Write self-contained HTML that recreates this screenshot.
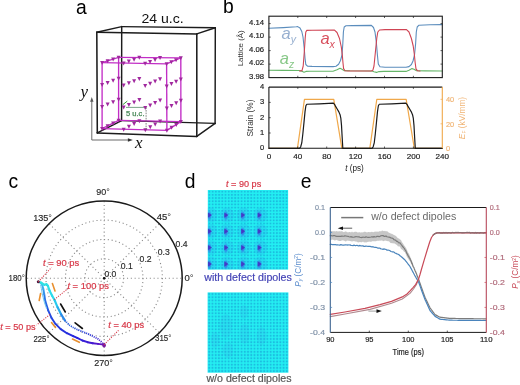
<!DOCTYPE html>
<html><head><meta charset="utf-8"><style>
html,body{margin:0;padding:0;background:#fff;}
svg{display:block;}
</style></head><body>
<svg width="520" height="385" viewBox="0 0 520 385">
<rect width="520" height="385" fill="#fff"/>
<text x="76.1" y="13.6" font-size="19.3" fill="#000" text-anchor="start" font-family="'Liberation Sans', Arial, sans-serif" >a</text>
<text x="223.1" y="12.9" font-size="19.3" fill="#000" text-anchor="start" font-family="'Liberation Sans', Arial, sans-serif" >b</text>
<text x="8.6" y="188" font-size="19.3" fill="#000" text-anchor="start" font-family="'Liberation Sans', Arial, sans-serif" >c</text>
<text x="184.7" y="187.9" font-size="19.3" fill="#000" text-anchor="start" font-family="'Liberation Sans', Arial, sans-serif" >d</text>
<text x="300.8" y="188" font-size="19.3" fill="#000" text-anchor="start" font-family="'Liberation Sans', Arial, sans-serif" >e</text>
<text x="141.4" y="22.6" font-size="12.4" fill="#111" text-anchor="start" font-family="'Liberation Sans', Arial, sans-serif"  textLength="42.3" lengthAdjust="spacingAndGlyphs">24 u.c.</text>
<line x1="121.7" y1="26.6" x2="215.3" y2="27.8" stroke="#1c1c1c" stroke-width="1.45" stroke-linecap="round"/>
<line x1="215.3" y1="27.8" x2="215.1" y2="123.4" stroke="#1c1c1c" stroke-width="1.45" stroke-linecap="round"/>
<line x1="215.1" y1="123.4" x2="121.6" y2="120.6" stroke="#1c1c1c" stroke-width="1.45" stroke-linecap="round"/>
<line x1="121.6" y1="120.6" x2="121.7" y2="26.6" stroke="#1c1c1c" stroke-width="1.45" stroke-linecap="round"/>
<line x1="96.8" y1="32.3" x2="121.7" y2="26.6" stroke="#1c1c1c" stroke-width="1.45" stroke-linecap="round"/>
<line x1="196.8" y1="33.9" x2="215.3" y2="27.8" stroke="#1c1c1c" stroke-width="1.45" stroke-linecap="round"/>
<line x1="196.8" y1="136.4" x2="215.1" y2="123.4" stroke="#1c1c1c" stroke-width="1.45" stroke-linecap="round"/>
<line x1="97.3" y1="132.9" x2="121.6" y2="120.6" stroke="#1c1c1c" stroke-width="1.45" stroke-linecap="round"/>
<line x1="118.6" y1="57.3" x2="180.8" y2="57.8" stroke="#c22ec6" stroke-width="1.35" />
<line x1="180.8" y1="57.8" x2="180.9" y2="121.6" stroke="#c22ec6" stroke-width="1.35" />
<line x1="180.9" y1="121.6" x2="118.6" y2="120.3" stroke="#c22ec6" stroke-width="1.35" />
<line x1="118.6" y1="120.3" x2="118.6" y2="57.3" stroke="#c22ec6" stroke-width="1.35" />
<line x1="102.1" y1="62.6" x2="118.6" y2="57.3" stroke="#c22ec6" stroke-width="1.35" />
<line x1="166.6" y1="63.8" x2="180.8" y2="57.8" stroke="#c22ec6" stroke-width="1.35" />
<line x1="166.9" y1="130.4" x2="180.9" y2="121.6" stroke="#c22ec6" stroke-width="1.35" />
<line x1="102.1" y1="128.7" x2="118.6" y2="120.3" stroke="#c22ec6" stroke-width="1.35" />
<line x1="102.1" y1="62.6" x2="166.6" y2="63.8" stroke="#c22ec6" stroke-width="1.35" />
<line x1="166.6" y1="63.8" x2="166.9" y2="130.4" stroke="#c22ec6" stroke-width="1.35" />
<line x1="166.9" y1="130.4" x2="102.1" y2="128.7" stroke="#c22ec6" stroke-width="1.35" />
<line x1="102.1" y1="128.7" x2="102.1" y2="62.6" stroke="#c22ec6" stroke-width="1.35" />
<line x1="96.8" y1="32.3" x2="196.8" y2="33.9" stroke="#1c1c1c" stroke-width="1.55" stroke-linecap="round"/>
<line x1="196.8" y1="33.9" x2="196.8" y2="136.4" stroke="#1c1c1c" stroke-width="1.55" stroke-linecap="round"/>
<line x1="196.8" y1="136.4" x2="97.3" y2="132.9" stroke="#1c1c1c" stroke-width="1.55" stroke-linecap="round"/>
<line x1="97.3" y1="132.9" x2="96.8" y2="32.3" stroke="#1c1c1c" stroke-width="1.55" stroke-linecap="round"/>
<polygon points="100.1,61 104.1,61 102.1,65" fill="#a0289e" />
<polygon points="105.6,59.23 109.6,59.23 107.6,63.23" fill="#a0289e" />
<polygon points="111.1,57.47 115.1,57.47 113.1,61.47" fill="#a0289e" />
<polygon points="116.6,55.7 120.6,55.7 118.6,59.7" fill="#a0289e" />
<polygon points="100.1,83.03 104.1,83.03 102.1,87.03" fill="#a0289e" />
<polygon points="105.6,80.92 109.6,80.92 107.6,84.92" fill="#a0289e" />
<polygon points="111.1,78.81 115.1,78.81 113.1,82.81" fill="#a0289e" />
<polygon points="116.6,76.7 120.6,76.7 118.6,80.7" fill="#a0289e" />
<polygon points="100.1,105.07 104.1,105.07 102.1,109.07" fill="#a0289e" />
<polygon points="105.6,102.61 109.6,102.61 107.6,106.61" fill="#a0289e" />
<polygon points="111.1,100.16 115.1,100.16 113.1,104.16" fill="#a0289e" />
<polygon points="116.6,97.7 120.6,97.7 118.6,101.7" fill="#a0289e" />
<polygon points="100.1,127.1 104.1,127.1 102.1,131.1" fill="#a0289e" />
<polygon points="105.6,124.3 109.6,124.3 107.6,128.3" fill="#a0289e" />
<polygon points="111.1,121.5 115.1,121.5 113.1,125.5" fill="#a0289e" />
<polygon points="116.6,118.7 120.6,118.7 118.6,122.7" fill="#a0289e" />
<polygon points="121.6,61.4 125.6,61.4 123.6,65.4" fill="#a0289e" />
<polygon points="126.84,59.56 130.84,59.56 128.84,63.56" fill="#a0289e" />
<polygon points="132.09,57.71 136.09,57.71 134.09,61.71" fill="#a0289e" />
<polygon points="137.33,55.87 141.33,55.87 139.33,59.87" fill="#a0289e" />
<polygon points="121.63,83.49 125.63,83.49 123.63,87.49" fill="#a0289e" />
<polygon points="126.87,81.31 130.87,81.31 128.87,85.31" fill="#a0289e" />
<polygon points="132.11,79.13 136.11,79.13 134.11,83.13" fill="#a0289e" />
<polygon points="137.34,76.96 141.34,76.96 139.34,80.96" fill="#a0289e" />
<polygon points="121.67,105.58 125.67,105.58 123.67,109.58" fill="#a0289e" />
<polygon points="126.9,103.07 130.9,103.07 128.9,107.07" fill="#a0289e" />
<polygon points="132.13,100.56 136.13,100.56 134.13,104.56" fill="#a0289e" />
<polygon points="137.36,98.04 141.36,98.04 139.36,102.04" fill="#a0289e" />
<polygon points="121.7,127.67 125.7,127.67 123.7,131.67" fill="#a0289e" />
<polygon points="126.92,124.82 130.92,124.82 128.92,128.82" fill="#a0289e" />
<polygon points="132.14,121.98 136.14,121.98 134.14,125.98" fill="#a0289e" />
<polygon points="137.37,119.13 141.37,119.13 139.37,123.13" fill="#a0289e" />
<polygon points="143.1,61.8 147.1,61.8 145.1,65.8" fill="#a0289e" />
<polygon points="148.09,59.88 152.09,59.88 150.09,63.88" fill="#a0289e" />
<polygon points="153.08,57.96 157.08,57.96 155.08,61.96" fill="#a0289e" />
<polygon points="158.07,56.03 162.07,56.03 160.07,60.03" fill="#a0289e" />
<polygon points="143.17,83.94 147.17,83.94 145.17,87.94" fill="#a0289e" />
<polygon points="148.14,81.7 152.14,81.7 150.14,85.7" fill="#a0289e" />
<polygon points="153.11,79.46 157.11,79.46 155.11,83.46" fill="#a0289e" />
<polygon points="158.09,77.21 162.09,77.21 160.09,81.21" fill="#a0289e" />
<polygon points="143.23,106.09 147.23,106.09 145.23,110.09" fill="#a0289e" />
<polygon points="148.19,103.52 152.19,103.52 150.19,107.52" fill="#a0289e" />
<polygon points="153.15,100.96 157.15,100.96 155.15,104.96" fill="#a0289e" />
<polygon points="158.11,98.39 162.11,98.39 160.11,102.39" fill="#a0289e" />
<polygon points="143.3,128.23 147.3,128.23 145.3,132.23" fill="#a0289e" />
<polygon points="148.24,125.34 152.24,125.34 150.24,129.34" fill="#a0289e" />
<polygon points="153.19,122.46 157.19,122.46 155.19,126.46" fill="#a0289e" />
<polygon points="158.13,119.57 162.13,119.57 160.13,123.57" fill="#a0289e" />
<polygon points="164.6,62.2 168.6,62.2 166.6,66.2" fill="#a0289e" />
<polygon points="169.33,60.2 173.33,60.2 171.33,64.2" fill="#a0289e" />
<polygon points="174.07,58.2 178.07,58.2 176.07,62.2" fill="#a0289e" />
<polygon points="178.8,56.2 182.8,56.2 180.8,60.2" fill="#a0289e" />
<polygon points="164.7,84.4 168.7,84.4 166.7,88.4" fill="#a0289e" />
<polygon points="169.41,82.09 173.41,82.09 171.41,86.09" fill="#a0289e" />
<polygon points="174.12,79.78 178.12,79.78 176.12,83.78" fill="#a0289e" />
<polygon points="178.83,77.47 182.83,77.47 180.83,81.47" fill="#a0289e" />
<polygon points="164.8,106.6 168.8,106.6 166.8,110.6" fill="#a0289e" />
<polygon points="169.49,103.98 173.49,103.98 171.49,107.98" fill="#a0289e" />
<polygon points="174.18,101.36 178.18,101.36 176.18,105.36" fill="#a0289e" />
<polygon points="178.87,98.73 182.87,98.73 180.87,102.73" fill="#a0289e" />
<polygon points="164.9,128.8 168.9,128.8 166.9,132.8" fill="#a0289e" />
<polygon points="169.57,125.87 173.57,125.87 171.57,129.87" fill="#a0289e" />
<polygon points="174.23,122.93 178.23,122.93 176.23,126.93" fill="#a0289e" />
<polygon points="178.9,120 182.9,120 180.9,124" fill="#a0289e" />
<line x1="126" y1="107.4" x2="144" y2="107.4" stroke="#6a9a78" stroke-width="0.9" />
<line x1="146.1" y1="107.4" x2="146.1" y2="131" stroke="#666" stroke-width="0.8" stroke-dasharray="1.6 1"/>
<line x1="122.9" y1="104.6" x2="127.3" y2="101.1" stroke="#3a9a3a" stroke-width="1" />
<text x="126" y="115.8" font-size="6.3" fill="#4a8a5a" text-anchor="start" font-family="'Liberation Sans', Arial, sans-serif" stroke="#4a8a5a" stroke-width="0.25" textLength="18.5" lengthAdjust="spacingAndGlyphs">5 u.c.</text>
<line x1="91.8" y1="99.5" x2="91.8" y2="140" stroke="#5a5a5a" stroke-width="0.9" />
<line x1="91.8" y1="140" x2="130" y2="140" stroke="#5a5a5a" stroke-width="0.9" />
<polygon points="91.8,96.9 90.1,101.8 93.5,101.8" fill="#5a5a5a" />
<polygon points="132.8,140 127.9,138.3 127.9,141.7" fill="#333" />
<text x="80.4" y="97.2" font-size="17" fill="#111" text-anchor="start" font-family="'Liberation Serif', 'Times New Roman', serif" font-style="italic">y</text>
<text x="135" y="147.7" font-size="17" fill="#111" text-anchor="start" font-family="'Liberation Serif', 'Times New Roman', serif" font-style="italic">x</text>
<polyline points="268.9,70.2 283.35,70.4 299,70.5 302,71.2 304,72.2 306,71.4 310,71.2 333,71.2 337,69.8 340,68.3 342,69.2 344,70.6 350,70.8 372,71 374,71.8 376.5,72.4 379,71.6 384,71.4 406,71.4 409,70.2 412,68.6 414,69.2 416.5,70.8 425,70.9 442,71" fill="none" stroke="#66b56a" stroke-width="1.1" stroke-linejoin="round" stroke-linecap="round" />
<polyline points="268.9,28.3 283.35,27.6 296.35,26.8 297.7,26.6 300,28 301.8,31.5 303,37 304.2,48 305,58 305.8,64.5 307.5,66.2 312,66.4 333,66.6 336,66.2 338.6,64.2 340.5,60.5 342,55 342.8,44 343.4,32 344.2,27 346,25.8 352,25.6 371.4,25.4 373.5,27.5 375,32 376.3,42 377.5,56 378.3,64 380,66.8 385,67.3 406,67.3 409,66.6 411.4,64.5 413,61 414.5,55 415.6,44 416.3,32 417.2,27 419,25.2 430,24.8 442,24.6" fill="none" stroke="#5b8dbd" stroke-width="1.1" stroke-linejoin="round" stroke-linecap="round" />
<polyline points="299.5,71 302,70.6 303.2,66 304.3,52 305.2,38 305.8,32 306.8,30.4 312,30.2 334.5,30.1 337,32.5 339.5,38.5 341.3,47 342.3,55 343,63 343.6,68.6 345,70.8 348,71 371,71 372.8,70.4 374,66 375.4,52 376.8,38 377.8,32 379.5,30 385,29.6 406.5,29.6 409,32 411.4,38.5 413.2,46 414.3,54 415.2,63 416,68.8 417.5,70.8 420,71" fill="none" stroke="#cf4454" stroke-width="1.1" stroke-linejoin="round" stroke-linecap="round" />
<rect x="268.9" y="16.2" width="173.4" height="61.4" fill="none" stroke="#1a1a1a" stroke-width="1.1"/>
<line x1="297.8" y1="16.2" x2="297.8" y2="18" stroke="#1a1a1a" stroke-width="0.7" />
<line x1="297.8" y1="77.6" x2="297.8" y2="75.8" stroke="#1a1a1a" stroke-width="0.7" />
<line x1="326.7" y1="16.2" x2="326.7" y2="18" stroke="#1a1a1a" stroke-width="0.7" />
<line x1="326.7" y1="77.6" x2="326.7" y2="75.8" stroke="#1a1a1a" stroke-width="0.7" />
<line x1="355.6" y1="16.2" x2="355.6" y2="18" stroke="#1a1a1a" stroke-width="0.7" />
<line x1="355.6" y1="77.6" x2="355.6" y2="75.8" stroke="#1a1a1a" stroke-width="0.7" />
<line x1="384.5" y1="16.2" x2="384.5" y2="18" stroke="#1a1a1a" stroke-width="0.7" />
<line x1="384.5" y1="77.6" x2="384.5" y2="75.8" stroke="#1a1a1a" stroke-width="0.7" />
<line x1="413.4" y1="16.2" x2="413.4" y2="18" stroke="#1a1a1a" stroke-width="0.7" />
<line x1="413.4" y1="77.6" x2="413.4" y2="75.8" stroke="#1a1a1a" stroke-width="0.7" />
<line x1="268.9" y1="23.6" x2="270.7" y2="23.6" stroke="#1a1a1a" stroke-width="0.7" />
<line x1="442.3" y1="23.6" x2="440.5" y2="23.6" stroke="#1a1a1a" stroke-width="0.7" />
<text x="264.1" y="24.9" font-size="7.5" fill="#222" text-anchor="end" font-family="'Liberation Sans', Arial, sans-serif"  textLength="15" lengthAdjust="spacingAndGlyphs" stroke="#222" stroke-width="0.18">4.14</text>
<line x1="268.9" y1="37.1" x2="270.7" y2="37.1" stroke="#1a1a1a" stroke-width="0.7" />
<line x1="442.3" y1="37.1" x2="440.5" y2="37.1" stroke="#1a1a1a" stroke-width="0.7" />
<text x="264.1" y="38.4" font-size="7.5" fill="#222" text-anchor="end" font-family="'Liberation Sans', Arial, sans-serif"  textLength="15" lengthAdjust="spacingAndGlyphs" stroke="#222" stroke-width="0.18">4.10</text>
<line x1="268.9" y1="50.6" x2="270.7" y2="50.6" stroke="#1a1a1a" stroke-width="0.7" />
<line x1="442.3" y1="50.6" x2="440.5" y2="50.6" stroke="#1a1a1a" stroke-width="0.7" />
<text x="264.1" y="51.9" font-size="7.5" fill="#222" text-anchor="end" font-family="'Liberation Sans', Arial, sans-serif"  textLength="15" lengthAdjust="spacingAndGlyphs" stroke="#222" stroke-width="0.18">4.06</text>
<line x1="268.9" y1="64.1" x2="270.7" y2="64.1" stroke="#1a1a1a" stroke-width="0.7" />
<line x1="442.3" y1="64.1" x2="440.5" y2="64.1" stroke="#1a1a1a" stroke-width="0.7" />
<text x="264.1" y="65.4" font-size="7.5" fill="#222" text-anchor="end" font-family="'Liberation Sans', Arial, sans-serif"  textLength="15" lengthAdjust="spacingAndGlyphs" stroke="#222" stroke-width="0.18">4.02</text>
<text x="264.1" y="78.9" font-size="7.5" fill="#222" text-anchor="end" font-family="'Liberation Sans', Arial, sans-serif"  textLength="15" lengthAdjust="spacingAndGlyphs" stroke="#222" stroke-width="0.18">3.98</text>
<text x="0" y="0" font-size="7.9" fill="#333" text-anchor="middle" font-family="'Liberation Sans', Arial, sans-serif" stroke="none" transform="translate(242.5,48.3) rotate(-90)">Lattice (Å)</text>
<text x="281.6" y="38.6" font-size="16.5" fill="#98b0d0" font-family="'Liberation Sans', Arial, sans-serif" font-style="italic">a<tspan font-size="10.5" dy="4">y</tspan></text>
<text x="320.4" y="44" font-size="16.5" fill="#d8505e" font-family="'Liberation Sans', Arial, sans-serif" font-style="italic">a<tspan font-size="10.5" dy="4">x</tspan></text>
<text x="279.8" y="63.7" font-size="16.5" fill="#88c888" font-family="'Liberation Sans', Arial, sans-serif" font-style="italic">a<tspan font-size="10.5" dy="4.3">z</tspan></text>
<polyline points="268.9,148.3 297.44,148.3 304.45,99.46 333.78,99.46 341.87,148.3 369.83,148.3 376.77,99.46 406.18,99.46 414.34,148.3 442.3,148.3" fill="none" stroke="#f0a84a" stroke-width="1.2" stroke-linejoin="round" stroke-linecap="round" />
<polyline points="268.9,148.3 299.53,148.3 300.69,146.77 301.77,142.95 302.86,133.77 304.01,122.14 305.02,111.58 305.89,105.77 306.83,104.24 319.47,103.78 333.42,103.16 334.65,104.54 335.73,106.68 337.18,108.98 338.69,111.58 340.07,114.64 340.86,118.47 341.51,125.35 342.09,136.06 342.81,148.3 372,148.3 373.16,146.77 374.24,142.95 375.32,133.77 376.48,122.14 377.49,111.58 378.36,105.77 379.3,104.24 391.94,103.78 405.89,103.16 407.11,104.54 408.2,106.68 409.64,108.98 411.16,111.58 412.53,114.64 413.33,118.47 413.98,125.35 414.56,136.06 415.28,148.3 442.3,148.3" fill="none" stroke="#1a1a1a" stroke-width="1.2" stroke-linejoin="round" stroke-linecap="round" />
<line x1="268.9" y1="87.1" x2="442.3" y2="87.1" stroke="#1a1a1a" stroke-width="1.1" />
<line x1="268.9" y1="148.3" x2="442.3" y2="148.3" stroke="#1a1a1a" stroke-width="1.1" />
<line x1="268.9" y1="87.1" x2="268.9" y2="148.3" stroke="#1a1a1a" stroke-width="1.1" />
<line x1="442.3" y1="87.1" x2="442.3" y2="148.3" stroke="#f0a84a" stroke-width="1.1" />
<text x="268.9" y="158.9" font-size="7.9" fill="#222" text-anchor="middle" font-family="'Liberation Sans', Arial, sans-serif"  textLength="4.5" lengthAdjust="spacingAndGlyphs" stroke="#222" stroke-width="0.18">0</text>
<line x1="297.8" y1="148.3" x2="297.8" y2="146.5" stroke="#1a1a1a" stroke-width="0.7" />
<line x1="297.8" y1="87.1" x2="297.8" y2="88.9" stroke="#1a1a1a" stroke-width="0.7" />
<text x="297.8" y="158.9" font-size="7.9" fill="#222" text-anchor="middle" font-family="'Liberation Sans', Arial, sans-serif"  textLength="9" lengthAdjust="spacingAndGlyphs" stroke="#222" stroke-width="0.18">40</text>
<line x1="326.7" y1="148.3" x2="326.7" y2="146.5" stroke="#1a1a1a" stroke-width="0.7" />
<line x1="326.7" y1="87.1" x2="326.7" y2="88.9" stroke="#1a1a1a" stroke-width="0.7" />
<text x="326.7" y="158.9" font-size="7.9" fill="#222" text-anchor="middle" font-family="'Liberation Sans', Arial, sans-serif"  textLength="9" lengthAdjust="spacingAndGlyphs" stroke="#222" stroke-width="0.18">80</text>
<line x1="355.6" y1="148.3" x2="355.6" y2="146.5" stroke="#1a1a1a" stroke-width="0.7" />
<line x1="355.6" y1="87.1" x2="355.6" y2="88.9" stroke="#1a1a1a" stroke-width="0.7" />
<text x="355.6" y="158.9" font-size="7.9" fill="#222" text-anchor="middle" font-family="'Liberation Sans', Arial, sans-serif"  textLength="13.5" lengthAdjust="spacingAndGlyphs" stroke="#222" stroke-width="0.18">120</text>
<line x1="384.5" y1="148.3" x2="384.5" y2="146.5" stroke="#1a1a1a" stroke-width="0.7" />
<line x1="384.5" y1="87.1" x2="384.5" y2="88.9" stroke="#1a1a1a" stroke-width="0.7" />
<text x="384.5" y="158.9" font-size="7.9" fill="#222" text-anchor="middle" font-family="'Liberation Sans', Arial, sans-serif"  textLength="13.5" lengthAdjust="spacingAndGlyphs" stroke="#222" stroke-width="0.18">160</text>
<line x1="413.4" y1="148.3" x2="413.4" y2="146.5" stroke="#1a1a1a" stroke-width="0.7" />
<line x1="413.4" y1="87.1" x2="413.4" y2="88.9" stroke="#1a1a1a" stroke-width="0.7" />
<text x="413.4" y="158.9" font-size="7.9" fill="#222" text-anchor="middle" font-family="'Liberation Sans', Arial, sans-serif"  textLength="13.5" lengthAdjust="spacingAndGlyphs" stroke="#222" stroke-width="0.18">200</text>
<text x="442.3" y="158.9" font-size="7.9" fill="#222" text-anchor="middle" font-family="'Liberation Sans', Arial, sans-serif"  textLength="13.5" lengthAdjust="spacingAndGlyphs" stroke="#222" stroke-width="0.18">240</text>
<text x="264.3" y="150.2" font-size="7.5" fill="#222" text-anchor="end" font-family="'Liberation Sans', Arial, sans-serif"  textLength="4.2" lengthAdjust="spacingAndGlyphs" stroke="#222" stroke-width="0.18">0</text>
<line x1="268.9" y1="133" x2="270.7" y2="133" stroke="#1a1a1a" stroke-width="0.7" />
<text x="264.3" y="134.9" font-size="7.5" fill="#222" text-anchor="end" font-family="'Liberation Sans', Arial, sans-serif"  textLength="4.2" lengthAdjust="spacingAndGlyphs" stroke="#222" stroke-width="0.18">1</text>
<line x1="268.9" y1="117.7" x2="270.7" y2="117.7" stroke="#1a1a1a" stroke-width="0.7" />
<text x="264.3" y="119.6" font-size="7.5" fill="#222" text-anchor="end" font-family="'Liberation Sans', Arial, sans-serif"  textLength="4.2" lengthAdjust="spacingAndGlyphs" stroke="#222" stroke-width="0.18">2</text>
<line x1="268.9" y1="102.4" x2="270.7" y2="102.4" stroke="#1a1a1a" stroke-width="0.7" />
<text x="264.3" y="104.3" font-size="7.5" fill="#222" text-anchor="end" font-family="'Liberation Sans', Arial, sans-serif"  textLength="4.2" lengthAdjust="spacingAndGlyphs" stroke="#222" stroke-width="0.18">3</text>
<text x="264.3" y="89" font-size="7.5" fill="#222" text-anchor="end" font-family="'Liberation Sans', Arial, sans-serif"  textLength="4.2" lengthAdjust="spacingAndGlyphs" stroke="#222" stroke-width="0.18">4</text>
<text x="446" y="151" font-size="7.5" fill="#f0b474" text-anchor="start" font-family="'Liberation Sans', Arial, sans-serif"  textLength="4.1" lengthAdjust="spacingAndGlyphs" stroke="#f0b474" stroke-width="0.18">0</text>
<line x1="442.3" y1="123.82" x2="440.5" y2="123.82" stroke="#f0a84a" stroke-width="0.7" />
<text x="446" y="126.52" font-size="7.5" fill="#f0b474" text-anchor="start" font-family="'Liberation Sans', Arial, sans-serif"  textLength="8.2" lengthAdjust="spacingAndGlyphs" stroke="#f0b474" stroke-width="0.18">20</text>
<line x1="442.3" y1="99.34" x2="440.5" y2="99.34" stroke="#f0a84a" stroke-width="0.7" />
<text x="446" y="102.04" font-size="7.5" fill="#f0b474" text-anchor="start" font-family="'Liberation Sans', Arial, sans-serif"  textLength="8.2" lengthAdjust="spacingAndGlyphs" stroke="#f0b474" stroke-width="0.18">40</text>
<text x="0" y="0" font-size="8.3" fill="#333" text-anchor="middle" font-family="'Liberation Sans', Arial, sans-serif" stroke="none" transform="translate(252.8,118) rotate(-90)">Strain (%)</text>
<text transform="translate(464.8,118) rotate(-90)" font-size="8.3" fill="#f0b474" text-anchor="middle" font-family="'Liberation Sans', Arial, sans-serif"><tspan font-style="italic">E</tspan><tspan font-size="5" dy="1.5">F</tspan><tspan dy="-1.5"> (kV/mm)</tspan></text>
<text x="345.2" y="170.6" font-size="8.3" fill="#222" font-family="'Liberation Sans', Arial, sans-serif" textLength="18.6" lengthAdjust="spacingAndGlyphs"><tspan font-style="italic">t</tspan> (ps)</text>
<circle cx="104.2" cy="278.25" r="19.4" fill="none" stroke="#8a8a8a" stroke-width="1.1" stroke-dasharray="1.1 2.7"/>
<circle cx="104.2" cy="278.25" r="38.8" fill="none" stroke="#8a8a8a" stroke-width="1.1" stroke-dasharray="1.1 2.7"/>
<circle cx="104.2" cy="278.25" r="58.2" fill="none" stroke="#8a8a8a" stroke-width="1.1" stroke-dasharray="1.1 2.7"/>
<line x1="104.2" y1="278.25" x2="182.2" y2="278.25" stroke="#8a8a8a" stroke-width="1.1" stroke-dasharray="1.1 2.7"/>
<line x1="104.2" y1="278.25" x2="159.35" y2="223.66" stroke="#8a8a8a" stroke-width="1.1" stroke-dasharray="1.1 2.7"/>
<line x1="104.2" y1="278.25" x2="104.2" y2="201.05" stroke="#8a8a8a" stroke-width="1.1" stroke-dasharray="1.1 2.7"/>
<line x1="104.2" y1="278.25" x2="49.05" y2="223.66" stroke="#8a8a8a" stroke-width="1.1" stroke-dasharray="1.1 2.7"/>
<line x1="104.2" y1="278.25" x2="26.2" y2="278.25" stroke="#8a8a8a" stroke-width="1.1" stroke-dasharray="1.1 2.7"/>
<line x1="104.2" y1="278.25" x2="49.05" y2="332.84" stroke="#8a8a8a" stroke-width="1.1" stroke-dasharray="1.1 2.7"/>
<line x1="104.2" y1="278.25" x2="104.2" y2="355.45" stroke="#8a8a8a" stroke-width="1.1" stroke-dasharray="1.1 2.7"/>
<line x1="104.2" y1="278.25" x2="159.35" y2="332.84" stroke="#8a8a8a" stroke-width="1.1" stroke-dasharray="1.1 2.7"/>
<ellipse cx="104.2" cy="278.25" rx="78.0" ry="77.2" fill="none" stroke="#1a1a1a" stroke-width="1.5"/>
<text x="103" y="194.8" font-size="9.9" fill="#2a2a2a" text-anchor="middle" font-family="'Liberation Sans', Arial, sans-serif"  textLength="13.6" lengthAdjust="spacingAndGlyphs" stroke="#2a2a2a" stroke-width="0.18">90<tspan stroke="none">°</tspan></text>
<text x="164" y="220.1" font-size="9.9" fill="#2a2a2a" text-anchor="middle" font-family="'Liberation Sans', Arial, sans-serif"  textLength="14.3" lengthAdjust="spacingAndGlyphs" stroke="#2a2a2a" stroke-width="0.18">45<tspan stroke="none">°</tspan></text>
<text x="189" y="281" font-size="9.9" fill="#2a2a2a" text-anchor="middle" font-family="'Liberation Sans', Arial, sans-serif"  textLength="9.1" lengthAdjust="spacingAndGlyphs" stroke="#2a2a2a" stroke-width="0.18">0<tspan stroke="none">°</tspan></text>
<text x="163.2" y="341.3" font-size="9.9" fill="#2a2a2a" text-anchor="middle" font-family="'Liberation Sans', Arial, sans-serif"  textLength="16.4" lengthAdjust="spacingAndGlyphs" stroke="#2a2a2a" stroke-width="0.18">315<tspan stroke="none">°</tspan></text>
<text x="103.5" y="366.3" font-size="9.9" fill="#2a2a2a" text-anchor="middle" font-family="'Liberation Sans', Arial, sans-serif"  textLength="18.7" lengthAdjust="spacingAndGlyphs" stroke="#2a2a2a" stroke-width="0.18">270<tspan stroke="none">°</tspan></text>
<text x="41.5" y="342" font-size="9.9" fill="#2a2a2a" text-anchor="middle" font-family="'Liberation Sans', Arial, sans-serif"  textLength="16.1" lengthAdjust="spacingAndGlyphs" stroke="#2a2a2a" stroke-width="0.18">225<tspan stroke="none">°</tspan></text>
<text x="16.7" y="281.1" font-size="9.9" fill="#2a2a2a" text-anchor="middle" font-family="'Liberation Sans', Arial, sans-serif"  textLength="16.3" lengthAdjust="spacingAndGlyphs" stroke="#2a2a2a" stroke-width="0.18">180<tspan stroke="none">°</tspan></text>
<text x="42.6" y="220.6" font-size="9.9" fill="#2a2a2a" text-anchor="middle" font-family="'Liberation Sans', Arial, sans-serif"  textLength="18.8" lengthAdjust="spacingAndGlyphs" stroke="#2a2a2a" stroke-width="0.18">135<tspan stroke="none">°</tspan></text>
<text x="104.4" y="276.7" font-size="9.4" fill="#2a2a2a" text-anchor="start" font-family="'Liberation Sans', Arial, sans-serif"  textLength="12" lengthAdjust="spacingAndGlyphs" stroke="#2a2a2a" stroke-width="0.18">0.0</text>
<text x="120.8" y="269.1" font-size="9.4" fill="#2a2a2a" text-anchor="start" font-family="'Liberation Sans', Arial, sans-serif"  textLength="12" lengthAdjust="spacingAndGlyphs" stroke="#2a2a2a" stroke-width="0.18">0.1</text>
<text x="139.6" y="262.1" font-size="9.4" fill="#2a2a2a" text-anchor="start" font-family="'Liberation Sans', Arial, sans-serif"  textLength="12" lengthAdjust="spacingAndGlyphs" stroke="#2a2a2a" stroke-width="0.18">0.2</text>
<text x="157.7" y="254.7" font-size="9.4" fill="#2a2a2a" text-anchor="start" font-family="'Liberation Sans', Arial, sans-serif"  textLength="12" lengthAdjust="spacingAndGlyphs" stroke="#2a2a2a" stroke-width="0.18">0.3</text>
<text x="175.6" y="246.6" font-size="9.4" fill="#2a2a2a" text-anchor="start" font-family="'Liberation Sans', Arial, sans-serif"  textLength="12" lengthAdjust="spacingAndGlyphs" stroke="#2a2a2a" stroke-width="0.18">0.4</text>
<circle cx="104.2" cy="278.25" r="1.3" fill="#111"/>
<line x1="103.6" y1="344.6" x2="98" y2="343.9" stroke="#6115bf" stroke-width="1.9" stroke-linecap="round" />
<line x1="98" y1="343.9" x2="92.8" y2="343.3" stroke="#4f17cc" stroke-width="1.9" stroke-linecap="round" />
<line x1="92.8" y1="343.3" x2="87.6" y2="342.2" stroke="#431ad2" stroke-width="1.9" stroke-linecap="round" />
<line x1="87.6" y1="342.2" x2="82.4" y2="340.5" stroke="#391dd6" stroke-width="1.9" stroke-linecap="round" />
<line x1="82.4" y1="340.5" x2="77.2" y2="337.9" stroke="#2f20d9" stroke-width="1.9" stroke-linecap="round" />
<line x1="77.2" y1="337.9" x2="73.2" y2="336.2" stroke="#2622dc" stroke-width="1.9" stroke-linecap="round" />
<line x1="73.2" y1="336.2" x2="66.9" y2="333.2" stroke="#2629dd" stroke-width="1.9" stroke-linecap="round" />
<line x1="66.9" y1="333.2" x2="60.7" y2="329.1" stroke="#2530de" stroke-width="1.9" stroke-linecap="round" />
<line x1="60.7" y1="329.1" x2="55.5" y2="323.9" stroke="#2539de" stroke-width="1.9" stroke-linecap="round" />
<line x1="55.5" y1="323.9" x2="51.4" y2="317.7" stroke="#2441df" stroke-width="1.9" stroke-linecap="round" />
<line x1="51.4" y1="317.7" x2="48.2" y2="310.4" stroke="#244be1" stroke-width="1.9" stroke-linecap="round" />
<line x1="48.2" y1="310.4" x2="46.2" y2="304" stroke="#275de4" stroke-width="1.9" stroke-linecap="round" />
<line x1="46.2" y1="304" x2="45.1" y2="300" stroke="#286ae6" stroke-width="1.9" stroke-linecap="round" />
<line x1="45.1" y1="300" x2="44.2" y2="294" stroke="#2a77e8" stroke-width="1.9" stroke-linecap="round" />
<line x1="44.2" y1="294" x2="43.3" y2="289" stroke="#3294eb" stroke-width="1.9" stroke-linecap="round" />
<line x1="43.3" y1="289" x2="42.2" y2="285" stroke="#39aded" stroke-width="1.9" stroke-linecap="round" />
<line x1="42.2" y1="285" x2="40.5" y2="282.6" stroke="#3ec0ef" stroke-width="1.9" stroke-linecap="round" />
<polyline points="40.7,285.3 42.2,293.6 44.3,301.9 46.4,308.1" fill="none" stroke="#70c8f0" stroke-width="1.1" stroke-linejoin="round" stroke-linecap="round" stroke-dasharray="0.9 0.9"/>
<line x1="38.3" y1="281.8" x2="41.2" y2="282.7" stroke="#30e3e1" stroke-width="2.2" stroke-linecap="round" />
<line x1="41.2" y1="282.7" x2="44.3" y2="284.8" stroke="#2fe2e3" stroke-width="2.2" stroke-linecap="round" />
<line x1="44.3" y1="284.8" x2="46.4" y2="284.2" stroke="#2ee1e4" stroke-width="2.2" stroke-linecap="round" />
<line x1="46.4" y1="284.2" x2="47.9" y2="285.8" stroke="#2de0e5" stroke-width="2.2" stroke-linecap="round" />
<line x1="47.9" y1="285.8" x2="49.5" y2="290.5" stroke="#2cdee7" stroke-width="2.2" stroke-linecap="round" />
<line x1="49.5" y1="290.5" x2="52.1" y2="295.7" stroke="#2adcea" stroke-width="2.2" stroke-linecap="round" />
<line x1="52.1" y1="295.7" x2="54.7" y2="300.3" stroke="#29d9ed" stroke-width="2.2" stroke-linecap="round" />
<line x1="54.7" y1="300.3" x2="57.6" y2="307.3" stroke="#28caed" stroke-width="2.2" stroke-linecap="round" />
<line x1="57.6" y1="307.3" x2="61.2" y2="314.5" stroke="#28acec" stroke-width="2.2" stroke-linecap="round" />
<line x1="61.2" y1="314.5" x2="64.9" y2="320.3" stroke="#2889e9" stroke-width="2.2" stroke-linecap="round" />
<defs><linearGradient id="gb" gradientUnits="userSpaceOnUse" x1="64.9" y1="320.3" x2="103.7" y2="344.6"><stop offset="0" stop-color="#2a6ae8"/><stop offset="0.6" stop-color="#2c3ce0"/><stop offset="1" stop-color="#5020c8"/></linearGradient></defs>
<polyline points="64.9,320.3 69,324.9 73.2,327.5 77.2,329.5 82.4,331.6 87.6,333.7 92.8,336.3 98,338.9 102.1,342.5 103.7,344.6" fill="none" stroke="url(#gb)" stroke-width="1.8" stroke-linejoin="round" stroke-dasharray="1.1 1.0"/>
<circle cx="38.3" cy="281.8" r="1.5" fill="#4a1a40"/>
<ellipse cx="104.1" cy="345.2" rx="1.8" ry="2.2" fill="#7a1aa0"/>
<line x1="38.3" y1="281.8" x2="51.5" y2="267.5" stroke="#d83848" stroke-width="1.1" stroke-dasharray="1.1 1.3"/>
<line x1="54.3" y1="299.6" x2="68" y2="288.5" stroke="#d83848" stroke-width="1.1" stroke-dasharray="1.1 1.3"/>
<line x1="50" y1="314.5" x2="36.5" y2="325" stroke="#d83848" stroke-width="1.1" stroke-dasharray="1.1 1.3"/>
<line x1="104.2" y1="344.6" x2="118.5" y2="330.4" stroke="#d83848" stroke-width="1.1" stroke-dasharray="1.1 1.3"/>
<text x="42.9" y="266.2" font-size="9.0" fill="#d83848" stroke="#d83848" stroke-width="0.2" font-family="'Liberation Sans', Arial, sans-serif" textLength="36.4" lengthAdjust="spacingAndGlyphs"><tspan font-style="italic">t</tspan> = 90 ps</text>
<text x="67.4" y="288.7" font-size="9.0" fill="#d83848" stroke="#d83848" stroke-width="0.2" font-family="'Liberation Sans', Arial, sans-serif" textLength="41.5" lengthAdjust="spacingAndGlyphs"><tspan font-style="italic">t</tspan> = 100 ps</text>
<text x="0.2" y="330" font-size="9.0" fill="#d83848" stroke="#d83848" stroke-width="0.2" font-family="'Liberation Sans', Arial, sans-serif" textLength="35.4" lengthAdjust="spacingAndGlyphs"><tspan font-style="italic">t</tspan> = 50 ps</text>
<text x="108.3" y="328.4" font-size="9.0" fill="#d83848" stroke="#d83848" stroke-width="0.2" font-family="'Liberation Sans', Arial, sans-serif" textLength="35.8" lengthAdjust="spacingAndGlyphs"><tspan font-style="italic">t</tspan> = 40 ps</text>
<line x1="39.2" y1="300.5" x2="40.6" y2="293.5" stroke="#e89030" stroke-width="1.6" stroke-linecap="round"/>
<line x1="52.4" y1="283.5" x2="55" y2="291" stroke="#e89030" stroke-width="1.6" stroke-linecap="round"/>
<line x1="51.5" y1="322.5" x2="55.5" y2="327.5" stroke="#e89030" stroke-width="1.6" stroke-linecap="round"/>
<line x1="72.5" y1="339" x2="79.3" y2="342.3" stroke="#e89030" stroke-width="1.6" stroke-linecap="round"/>
<line x1="60.6" y1="304" x2="65.3" y2="312" stroke="#111" stroke-width="1.6" stroke-linecap="round"/>
<line x1="75.1" y1="322.8" x2="82.4" y2="328.5" stroke="#111" stroke-width="1.6" stroke-linecap="round"/>
<defs>
<pattern id="hp" x="207.8" y="190" width="3.212" height="3.184" patternUnits="userSpaceOnUse"><rect width="3.3" height="3.3" fill="#22eef2"/><rect x="0.7" y="0.7" width="1.9" height="1.9" rx="0.6" fill="#1bbedf"/></pattern>
<pattern id="hp2" x="207.6" y="292.4" width="3.232" height="3.212" patternUnits="userSpaceOnUse"><rect width="3.3" height="3.3" fill="#24eef2"/><rect x="0.7" y="0.7" width="1.9" height="1.9" rx="0.6" fill="#1cbee0"/></pattern>
<radialGradient id="spot"><stop offset="0" stop-color="#3858e0"/><stop offset="0.55" stop-color="#3488e8" stop-opacity="0.75"/><stop offset="1" stop-color="#30b8f0" stop-opacity="0"/></radialGradient>
</defs>
<rect x="207.8" y="190" width="80.3" height="79.6" fill="url(#hp)"/>
<defs><clipPath id="hc"><rect x="207.8" y="190" width="80.3" height="79.6"/></clipPath><filter id="sb" x="-20%" y="-20%" width="140%" height="140%"><feGaussianBlur stdDeviation="0.45"/></filter></defs>
<g clip-path="url(#hc)"><g filter="url(#sb)">
<ellipse cx="210.4" cy="215.1" rx="7" ry="7.5" fill="#2a70e0" opacity="0.14"/>
<ellipse cx="209.4" cy="215.6" rx="2.8" ry="5.8" fill="url(#spot)"/>
<polygon points="207.8,212.4 212,215.1 207.8,217.8" fill="#4630c2" opacity="0.85"/>
<ellipse cx="210.4" cy="231.3" rx="7" ry="7.5" fill="#2a70e0" opacity="0.14"/>
<ellipse cx="209.4" cy="231.8" rx="2.8" ry="5.8" fill="url(#spot)"/>
<polygon points="207.8,228.6 212,231.3 207.8,234" fill="#4630c2" opacity="0.85"/>
<ellipse cx="210.4" cy="247.6" rx="7" ry="7.5" fill="#2a70e0" opacity="0.14"/>
<ellipse cx="209.4" cy="248.1" rx="2.8" ry="5.8" fill="url(#spot)"/>
<polygon points="207.8,244.9 212,247.6 207.8,250.3" fill="#4630c2" opacity="0.85"/>
<ellipse cx="210.4" cy="264" rx="7" ry="7.5" fill="#2a70e0" opacity="0.14"/>
<ellipse cx="209.4" cy="264.5" rx="2.8" ry="5.8" fill="url(#spot)"/>
<polygon points="207.8,261.3 212,264 207.8,266.7" fill="#4630c2" opacity="0.85"/>
<ellipse cx="226.9" cy="215.1" rx="7" ry="7.5" fill="#2a70e0" opacity="0.14"/>
<ellipse cx="225.9" cy="215.6" rx="2.8" ry="5.8" fill="url(#spot)"/>
<polygon points="224.3,212.4 228.5,215.1 224.3,217.8" fill="#4630c2" opacity="0.85"/>
<ellipse cx="226.9" cy="231.3" rx="7" ry="7.5" fill="#2a70e0" opacity="0.14"/>
<ellipse cx="225.9" cy="231.8" rx="2.8" ry="5.8" fill="url(#spot)"/>
<polygon points="224.3,228.6 228.5,231.3 224.3,234" fill="#4630c2" opacity="0.85"/>
<ellipse cx="226.9" cy="247.6" rx="7" ry="7.5" fill="#2a70e0" opacity="0.14"/>
<ellipse cx="225.9" cy="248.1" rx="2.8" ry="5.8" fill="url(#spot)"/>
<polygon points="224.3,244.9 228.5,247.6 224.3,250.3" fill="#4630c2" opacity="0.85"/>
<ellipse cx="226.9" cy="264" rx="7" ry="7.5" fill="#2a70e0" opacity="0.14"/>
<ellipse cx="225.9" cy="264.5" rx="2.8" ry="5.8" fill="url(#spot)"/>
<polygon points="224.3,261.3 228.5,264 224.3,266.7" fill="#4630c2" opacity="0.85"/>
<ellipse cx="243.7" cy="215.1" rx="7" ry="7.5" fill="#2a70e0" opacity="0.14"/>
<ellipse cx="242.7" cy="215.6" rx="2.8" ry="5.8" fill="url(#spot)"/>
<polygon points="241.1,212.4 245.3,215.1 241.1,217.8" fill="#4630c2" opacity="0.85"/>
<ellipse cx="243.7" cy="231.3" rx="7" ry="7.5" fill="#2a70e0" opacity="0.14"/>
<ellipse cx="242.7" cy="231.8" rx="2.8" ry="5.8" fill="url(#spot)"/>
<polygon points="241.1,228.6 245.3,231.3 241.1,234" fill="#4630c2" opacity="0.85"/>
<ellipse cx="243.7" cy="247.6" rx="7" ry="7.5" fill="#2a70e0" opacity="0.14"/>
<ellipse cx="242.7" cy="248.1" rx="2.8" ry="5.8" fill="url(#spot)"/>
<polygon points="241.1,244.9 245.3,247.6 241.1,250.3" fill="#4630c2" opacity="0.85"/>
<ellipse cx="243.7" cy="264" rx="7" ry="7.5" fill="#2a70e0" opacity="0.14"/>
<ellipse cx="242.7" cy="264.5" rx="2.8" ry="5.8" fill="url(#spot)"/>
<polygon points="241.1,261.3 245.3,264 241.1,266.7" fill="#4630c2" opacity="0.85"/>
<ellipse cx="260.3" cy="215.1" rx="7" ry="7.5" fill="#2a70e0" opacity="0.14"/>
<ellipse cx="259.3" cy="215.6" rx="2.8" ry="5.8" fill="url(#spot)"/>
<polygon points="257.7,212.4 261.9,215.1 257.7,217.8" fill="#4630c2" opacity="0.85"/>
<ellipse cx="260.3" cy="231.3" rx="7" ry="7.5" fill="#2a70e0" opacity="0.14"/>
<ellipse cx="259.3" cy="231.8" rx="2.8" ry="5.8" fill="url(#spot)"/>
<polygon points="257.7,228.6 261.9,231.3 257.7,234" fill="#4630c2" opacity="0.85"/>
<ellipse cx="260.3" cy="247.6" rx="7" ry="7.5" fill="#2a70e0" opacity="0.14"/>
<ellipse cx="259.3" cy="248.1" rx="2.8" ry="5.8" fill="url(#spot)"/>
<polygon points="257.7,244.9 261.9,247.6 257.7,250.3" fill="#4630c2" opacity="0.85"/>
<ellipse cx="260.3" cy="264" rx="7" ry="7.5" fill="#2a70e0" opacity="0.14"/>
<ellipse cx="259.3" cy="264.5" rx="2.8" ry="5.8" fill="url(#spot)"/>
<polygon points="257.7,261.3 261.9,264 257.7,266.7" fill="#4630c2" opacity="0.85"/>
</g></g>
<rect x="207.6" y="292.4" width="80.8" height="80.3" fill="url(#hp2)"/>
<ellipse cx="226" cy="326" rx="6" ry="12" fill="#3a8ae0" opacity="0.13"/>
<ellipse cx="244.5" cy="334" rx="5" ry="10" fill="#3a8ae0" opacity="0.13"/>
<ellipse cx="261.5" cy="336" rx="5" ry="9" fill="#3a8ae0" opacity="0.13"/>
<ellipse cx="228" cy="350" rx="5" ry="8" fill="#3a8ae0" opacity="0.13"/>
<ellipse cx="244" cy="312" rx="4" ry="7" fill="#3a8ae0" opacity="0.13"/>
<ellipse cx="215" cy="340" rx="4" ry="8" fill="#3a8ae0" opacity="0.13"/>
<text x="226" y="187.2" font-size="9.0" fill="#d83848" stroke="#d83848" stroke-width="0.2" font-family="'Liberation Sans', Arial, sans-serif" textLength="35.2" lengthAdjust="spacingAndGlyphs"><tspan font-style="italic">t</tspan> = 90 ps</text>
<text x="204.2" y="281.1" font-size="10.2" fill="#4444b6" text-anchor="start" font-family="'Liberation Sans', Arial, sans-serif"  textLength="87.7" lengthAdjust="spacingAndGlyphs" stroke="#4444b6" stroke-width="0.18">with defect dipoles</text>
<text x="206.4" y="382.3" font-size="10.2" fill="#555" text-anchor="start" font-family="'Liberation Sans', Arial, sans-serif"  textLength="85.1" lengthAdjust="spacingAndGlyphs" stroke="#555" stroke-width="0.18">w/o defect dipoles</text>
<polygon points="330.3,231.3 331,231.12 332,230.95 333,231.59 334,230.94 335,231.54 336,231.37 337,231.05 338,231.63 339,231.1 340,231.62 341,231.21 342,231.27 343,231.7 344,232.21 345,231.4 346,231.55 347,232.06 348,232.48 349,232.06 350,231.88 351,232.61 352,231.54 353,232.55 354,231.91 355,231.77 356,231.78 357,232.05 358,232.7 359,231.98 360,232.5 361,232.54 362,232.2 363,232.38 364,231.78 365,231.75 366,231.9 367,232.44 368,232.11 369,231.95 370,232.25 371,232.07 372,231.86 373,232.34 374,232.1 375,231.44 376,231.72 377,231.54 378,231.84 379,231.55 380,230.9 381,231.61 382,230.46 383,230.7 384,231.31 385,230.78 386,231.39 387,231.05 388,232 389,232.63 390,232.92 391,233.79 392,233.63 393,234.61 394,235 395,235.5 396,236.11 397,237.33 398,238.21 399,238.41 400,239.4 401,240.05 402,242.2 403,243.52 404,245.31 405,246.49 406,247.9 407,250.08 408,252.48 409,253.77 410,256.35 411,258.48 412,260.89 413,263.3 413,268 412,265.25 411,263.47 410,261.31 409,260.1 408,258.56 407,256.95 406,254.67 405,252.33 404,251.81 403,250.2 402,249.51 401,248.88 400,246.63 399,246.19 398,246.39 397,245.12 396,244.61 395,243.72 394,243.3 393,243.38 392,242.96 391,243.19 390,242.62 389,241.35 388,241.24 387,241.1 386,240.86 385,240.62 384,241.06 383,241.25 382,240.33 381,240.84 380,240.62 379,240.78 378,240.7 377,240.86 376,241.31 375,241.19 374,241.35 373,241.28 372,241.37 371,242.07 370,241.44 369,241.8 368,241.8 367,242.3 366,242.4 365,242.29 364,242.45 363,241.44 362,242.19 361,242.13 360,242.02 359,242.15 358,242.38 357,241.84 356,241.52 355,241.5 354,240.92 353,241.16 352,241.47 351,241.26 350,240.88 349,240.81 348,240.67 347,240.57 346,241.47 345,241.31 344,240.61 343,240.61 342,240.37 341,241.01 340,240.88 339,240.9 338,240.44 337,240.25 336,239.75 335,240.64 334,240 333,239.76 332,239.56 331,240.27 330.3,239.9" fill="#c6c6c6" />
<polyline points="330.3,235.6 331.38,235.68 332.46,235.96 333.53,235.61 334.61,235.57 335.69,236.16 336.77,236.37 337.84,236.31 338.92,236.32 340,236.39 341,236.37 342,235.95 343,236.27 344,236.17 345,235.93 346,235.98 347,236.25 348,236.28 349,236.72 350,237.01 351,236.61 352,237.11 353,237.22 354,237.25 355,236.78 356,236.71 357,236.77 358,236.81 359,236.87 360,237.31 361,237.54 362,237.47 363,237.13 364,237.27 365,237.39 366,236.73 367,237.23 368,237.44 369,237.3 370,237.26 371,237 372,236.71 373,237.15 374,236.63 375,236.94 376,236.99 377,236.36 378,236.26 379,236.64 380,236.33 381,235.72 382,235.57 383,235.49 384,236.32 385,236.4 386,235.96 387,236.73 388,237.03 389,237.2 390,237.38 391,238.02 392,238.1 393,238.45 394,239.77 395,239.93 395.83,240.39 396.67,241.32 397.5,241.44 398.33,242.4 399.17,242.93 400,242.94 400.62,243.76 401.25,244.59 401.88,245.33 402.5,246.43 403.12,246.92 403.75,247.85 404.38,248.38 405,249.87 405.5,250.32 406,251.36 406.5,252.43 407,253.66 407.5,254.18 408,255.58 408.5,256.15 409,257.13 409.5,258.07 410,258.57 410.44,259.95 410.89,260.71 411.33,261.55 411.78,263.27 412.22,263.71 412.67,264.98 413.11,266.2 413.56,267.05 414,267.84 414.39,268.97 414.78,269.97 415.18,271.13 415.57,271.48 415.96,272.85 416.35,273.52 416.74,274.51 417.13,275.91 417.52,276.63 417.92,277.64 418.31,278.78 418.7,279.87 419.03,280.4 419.36,281.5 419.69,282.35 420.02,283.3 420.35,284.25 420.68,285.2 421.01,286.15 421.34,287.1 421.67,288.05 422,289 422.38,290.04 422.75,291.07 423.12,292.11 423.5,293.15 423.88,294.19 424.25,295.23 424.62,296.26 425,297.3 425.45,298.25 425.91,299.21 426.36,300.16 426.82,301.12 427.27,302.07 427.73,303.03 428.18,303.98 428.64,304.94 429.09,305.89 429.55,306.85 430,307.8 430.62,308.65 431.25,309.5 431.88,310.35 432.5,311.2 433.12,312.05 433.75,312.9 434.38,313.75 435,314.6 436,315.12 437,315.64 438,316.16 439,316.68 440,317.2 441,317.32 442,317.44 443,317.56 444,317.68 445,317.8 446,317.92 447,318.04 448,318.16 449,318.28 450,318.4 451,318.41 452,318.43 453,318.44 454,318.46 455,318.47 456,318.49 457,318.5 458,318.52 459,318.53 460,318.55 461,318.56 462,318.58 463,318.59 464,318.61 465,318.62 466,318.64 467,318.65 468,318.67 469,318.69 470,318.7 471,318.71 472,318.71 473,318.72 474,318.73 475,318.73 476,318.74 477,318.74 478,318.75 479,318.76 480,318.76 481,318.77 482,318.77 483,318.78 484,318.79 485,318.79 486,318.8" fill="none" stroke="#7c7c7c" stroke-width="1.2" stroke-linejoin="round" stroke-linecap="round" />
<polyline points="330.3,244.4 331.35,244.45 332.4,244.62 333.45,244.5 334.5,244.59 335.55,244.6 336.6,244.97 337.65,244.84 338.7,245.01 339.75,245.1 340.8,244.66 341.85,244.91 342.9,245.22 343.95,245.2 345,244.75 346,244.78 347,245.04 348,244.82 349,244.98 350,244.9 351,245.36 352,245.48 353,245.6 354,245.12 355,245.55 356,245.55 357,245.23 358,245.79 359,245.89 360,245.4 361,246.02 362,245.73 363,245.89 364,246.34 365,246.33 366,245.96 367,246.25 368,246.41 369,246.39 370,246.39 371,246.57 372,246.96 373,246.66 374,247.24 375,247.36 376,247.26 377,247.68 378,248.09 379,248.21 380,248.1 381,248.94 382,249 383,249.33 384,248.92 385,249.24 386,249.36 387,250.16 388,250.08 389,250.26 390,250.75 391,251.47 392,251.78 393,251.77 394,252.07 395,252.99 396,253.33 397,254 398,254.15 399,254.71 400,255.73 400.83,256.33 401.67,257.07 402.5,257.8 403.33,258.53 404.17,259.27 405,260 405.62,260.81 406.25,261.62 406.88,262.44 407.5,263.25 408.12,264.06 408.75,264.88 409.38,265.69 410,266.5 410.5,267.44 411,268.38 411.5,269.32 412,270.26 412.5,271.2 413,272.14 413.5,273.08 414,274.02 414.5,274.96 415,275.9 415.53,276.8 416.06,277.7 416.59,278.6 417.11,279.5 417.64,280.4 418.17,281.3 418.7,282.2 419.07,283.23 419.43,284.27 419.8,285.3 420.17,286.33 420.53,287.37 420.9,288.4 421.27,289.43 421.63,290.47 422,291.5 422.38,292.5 422.75,293.5 423.12,294.5 423.5,295.5 423.88,296.5 424.25,297.5 424.62,298.5 425,299.5 425.42,300.42 425.83,301.33 426.25,302.25 426.67,303.17 427.08,304.08 427.5,305 427.92,305.92 428.33,306.83 428.75,307.75 429.17,308.67 429.58,309.58 430,310.5 430.71,311.33 431.43,312.16 432.14,312.99 432.86,313.81 433.57,314.64 434.29,315.47 435,316.3 436,316.88 437,317.46 438,318.04 439,318.62 440,319.2 441,319.3 442,319.4 443,319.5 444,319.6 445,319.7 446,319.8 447,319.9 448,320 449,320.1 450,320.2 451,320.21 452,320.22 453,320.23 454,320.24 455,320.25 456,320.26 457,320.27 458,320.28 459,320.29 460,320.3 461,320.31 462,320.32 463,320.33 464,320.34 465,320.35 466,320.36 467,320.37 468,320.38 469,320.39 470,320.4 471,320.41 472,320.41 473,320.42 474,320.42 475,320.43 476,320.44 477,320.44 478,320.45 479,320.46 480,320.46 481,320.47 482,320.48 483,320.48 484,320.49 485,320.49 486,320.5" fill="none" stroke="#4a84bc" stroke-width="1.2" stroke-linejoin="round" stroke-linecap="round" />
<polyline points="330.3,316.6 345,314 370,309.4 391.5,303.2 402.3,299 410,293.4 413.5,289 416.5,284.4 418.5,279.4" fill="none" stroke="#b08a90" stroke-width="1.1" stroke-linejoin="round" stroke-linecap="round" />
<polyline points="330.3,314.4 345,312 365,308.4 380,304.6 391.5,301.4 402.3,296.9 407,294 410,290.9 413,287.6 415.6,284.6 418.5,279.2 420,274.5 421.4,269.5 424.3,259.7 427.2,250 429.7,242 431.5,237.5 433.2,235 435,233.6 437.2,232.9 445,232.8 460,232.8 486,232.8" fill="none" stroke="#c84a58" stroke-width="1.2" stroke-linejoin="round" stroke-linecap="round" />
<polyline points="433.2,235 434.1,234.3 435,233.6 436.1,233.25 437.2,232.9 438.31,232.83 439.43,232.57 440.54,233.16 441.66,232.94 442.77,233.04 443.89,232.52 445,233.05 446,232.5 447,233.05 448,232.77 449,232.69 450,232.84 451,233.1 452,232.64 453,232.54 454,232.82 455,232.62 456,232.53 457,232.56 458,232.49 459,232.59 460,232.67 461.02,232.66 462.04,232.98 463.06,232.65 464.08,232.8 465.1,232.57 466.12,232.69 467.14,232.46 468.16,232.63 469.18,232.46 470.2,232.96 471.22,232.84 472.24,232.58 473.26,232.78 474.28,233.1 475.3,232.52 476.32,233.02 477.34,232.75 478.36,232.8 479.38,233.03 480.4,232.73 481.42,232.8 482.44,232.93 483.46,233.14 484.48,232.69 485.5,232.8" fill="none" stroke="#8a6a6e" stroke-width="1.35" stroke-linejoin="round" stroke-linecap="round" />
<line x1="330.3" y1="207.5" x2="486.3" y2="207.5" stroke="#1a1a1a" stroke-width="1.0" />
<line x1="330.3" y1="332.4" x2="486.3" y2="332.4" stroke="#1a1a1a" stroke-width="1.0" />
<line x1="330.3" y1="207.5" x2="330.3" y2="332.4" stroke="#3d6490" stroke-width="1.1" />
<line x1="486.3" y1="207.5" x2="486.3" y2="332.4" stroke="#b84a5c" stroke-width="1.1" />
<line x1="369.3" y1="332.4" x2="369.3" y2="330.6" stroke="#1a1a1a" stroke-width="0.7" />
<line x1="408.3" y1="332.4" x2="408.3" y2="330.6" stroke="#1a1a1a" stroke-width="0.7" />
<line x1="447.3" y1="332.4" x2="447.3" y2="330.6" stroke="#1a1a1a" stroke-width="0.7" />
<line x1="330.3" y1="232.48" x2="332.1" y2="232.48" stroke="#4a86c0" stroke-width="0.7" />
<line x1="486.3" y1="232.48" x2="484.5" y2="232.48" stroke="#c84a58" stroke-width="0.7" />
<line x1="330.3" y1="257.46" x2="332.1" y2="257.46" stroke="#4a86c0" stroke-width="0.7" />
<line x1="486.3" y1="257.46" x2="484.5" y2="257.46" stroke="#c84a58" stroke-width="0.7" />
<line x1="330.3" y1="282.44" x2="332.1" y2="282.44" stroke="#4a86c0" stroke-width="0.7" />
<line x1="486.3" y1="282.44" x2="484.5" y2="282.44" stroke="#c84a58" stroke-width="0.7" />
<line x1="330.3" y1="307.42" x2="332.1" y2="307.42" stroke="#4a86c0" stroke-width="0.7" />
<line x1="486.3" y1="307.42" x2="484.5" y2="307.42" stroke="#c84a58" stroke-width="0.7" />
<text x="325.1" y="210" font-size="7.3" fill="#8092a8" text-anchor="end" font-family="'Liberation Sans', Arial, sans-serif"  textLength="10" lengthAdjust="spacingAndGlyphs" stroke="#8092a8" stroke-width="0.18">0.1</text>
<text x="489.8" y="210.1" font-size="7.5" fill="#b06a7a" text-anchor="start" font-family="'Liberation Sans', Arial, sans-serif"  textLength="10" lengthAdjust="spacingAndGlyphs" stroke="#b06a7a" stroke-width="0.18">0.1</text>
<text x="325.1" y="234.98" font-size="7.3" fill="#8092a8" text-anchor="end" font-family="'Liberation Sans', Arial, sans-serif"  textLength="10" lengthAdjust="spacingAndGlyphs" stroke="#8092a8" stroke-width="0.18">0.0</text>
<text x="489.8" y="235.08" font-size="7.5" fill="#b06a7a" text-anchor="start" font-family="'Liberation Sans', Arial, sans-serif"  textLength="10" lengthAdjust="spacingAndGlyphs" stroke="#b06a7a" stroke-width="0.18">0.0</text>
<text x="325.1" y="259.96" font-size="7.3" fill="#8092a8" text-anchor="end" font-family="'Liberation Sans', Arial, sans-serif"  textLength="15" lengthAdjust="spacingAndGlyphs" stroke="#8092a8" stroke-width="0.18">-0.1</text>
<text x="489.8" y="260.06" font-size="7.5" fill="#b06a7a" text-anchor="start" font-family="'Liberation Sans', Arial, sans-serif"  textLength="15" lengthAdjust="spacingAndGlyphs" stroke="#b06a7a" stroke-width="0.18">-0.1</text>
<text x="325.1" y="284.94" font-size="7.3" fill="#8092a8" text-anchor="end" font-family="'Liberation Sans', Arial, sans-serif"  textLength="15" lengthAdjust="spacingAndGlyphs" stroke="#8092a8" stroke-width="0.18">-0.2</text>
<text x="489.8" y="285.04" font-size="7.5" fill="#b06a7a" text-anchor="start" font-family="'Liberation Sans', Arial, sans-serif"  textLength="15" lengthAdjust="spacingAndGlyphs" stroke="#b06a7a" stroke-width="0.18">-0.2</text>
<text x="325.1" y="309.92" font-size="7.3" fill="#8092a8" text-anchor="end" font-family="'Liberation Sans', Arial, sans-serif"  textLength="15" lengthAdjust="spacingAndGlyphs" stroke="#8092a8" stroke-width="0.18">-0.3</text>
<text x="489.8" y="310.02" font-size="7.5" fill="#b06a7a" text-anchor="start" font-family="'Liberation Sans', Arial, sans-serif"  textLength="15" lengthAdjust="spacingAndGlyphs" stroke="#b06a7a" stroke-width="0.18">-0.3</text>
<text x="325.1" y="334.9" font-size="7.3" fill="#8092a8" text-anchor="end" font-family="'Liberation Sans', Arial, sans-serif"  textLength="15" lengthAdjust="spacingAndGlyphs" stroke="#8092a8" stroke-width="0.18">-0.4</text>
<text x="489.8" y="335" font-size="7.5" fill="#b06a7a" text-anchor="start" font-family="'Liberation Sans', Arial, sans-serif"  textLength="15" lengthAdjust="spacingAndGlyphs" stroke="#b06a7a" stroke-width="0.18">-0.4</text>
<text x="330.3" y="342.2" font-size="7.9" fill="#222" text-anchor="middle" font-family="'Liberation Sans', Arial, sans-serif"  textLength="8.3" lengthAdjust="spacingAndGlyphs" stroke="#222" stroke-width="0.18">90</text>
<text x="369.3" y="342.2" font-size="7.9" fill="#222" text-anchor="middle" font-family="'Liberation Sans', Arial, sans-serif"  textLength="8.3" lengthAdjust="spacingAndGlyphs" stroke="#222" stroke-width="0.18">95</text>
<text x="408.3" y="342.2" font-size="7.9" fill="#222" text-anchor="middle" font-family="'Liberation Sans', Arial, sans-serif"  textLength="12.45" lengthAdjust="spacingAndGlyphs" stroke="#222" stroke-width="0.18">100</text>
<text x="447.3" y="342.2" font-size="7.9" fill="#222" text-anchor="middle" font-family="'Liberation Sans', Arial, sans-serif"  textLength="12.45" lengthAdjust="spacingAndGlyphs" stroke="#222" stroke-width="0.18">105</text>
<text x="486.3" y="342.2" font-size="7.9" fill="#222" text-anchor="middle" font-family="'Liberation Sans', Arial, sans-serif"  textLength="12.45" lengthAdjust="spacingAndGlyphs" stroke="#222" stroke-width="0.18">110</text>
<text x="392.6" y="354.5" font-size="8.4" fill="#222" text-anchor="start" font-family="'Liberation Sans', Arial, sans-serif"  textLength="31.3" lengthAdjust="spacingAndGlyphs" stroke="#222" stroke-width="0.18">Time (ps)</text>
<text transform="translate(300.6,270) rotate(-90)" font-size="8.2" fill="#5a8ccc" text-anchor="middle" font-family="'Liberation Sans', Arial, sans-serif"><tspan font-style="italic">P</tspan><tspan font-size="5" dy="1.5" font-style="italic">y</tspan><tspan dy="-1.5"> (C/m</tspan><tspan font-size="5" dy="-2.5">2</tspan><tspan dy="2.5">)</tspan></text>
<text transform="translate(518.3,272) rotate(-90)" font-size="8.2" fill="#c84a58" text-anchor="middle" font-family="'Liberation Sans', Arial, sans-serif"><tspan font-style="italic">P</tspan><tspan font-size="5" dy="1.5" font-style="italic">x</tspan><tspan dy="-1.5"> (C/m</tspan><tspan font-size="5" dy="-2.5">2</tspan><tspan dy="2.5">)</tspan></text>
<line x1="341.2" y1="217.6" x2="363.3" y2="217.6" stroke="#777" stroke-width="1.5" />
<text x="371.2" y="219.6" font-size="10.2" fill="#6a6a6a" text-anchor="start" font-family="'Liberation Sans', Arial, sans-serif" stroke="none" textLength="85.1" lengthAdjust="spacingAndGlyphs">w/o defect dipoles</text>
<line x1="340.5" y1="228.2" x2="352.2" y2="228.2" stroke="#333" stroke-width="0.8" />
<polygon points="337.7,228.2 343,226.4 343,230" fill="#111" />
<line x1="368.4" y1="311.1" x2="378.5" y2="311.1" stroke="#888" stroke-width="0.8" />
<polygon points="381.8,311.1 376.5,309.3 376.5,312.9" fill="#111" />
</svg>
</body></html>
